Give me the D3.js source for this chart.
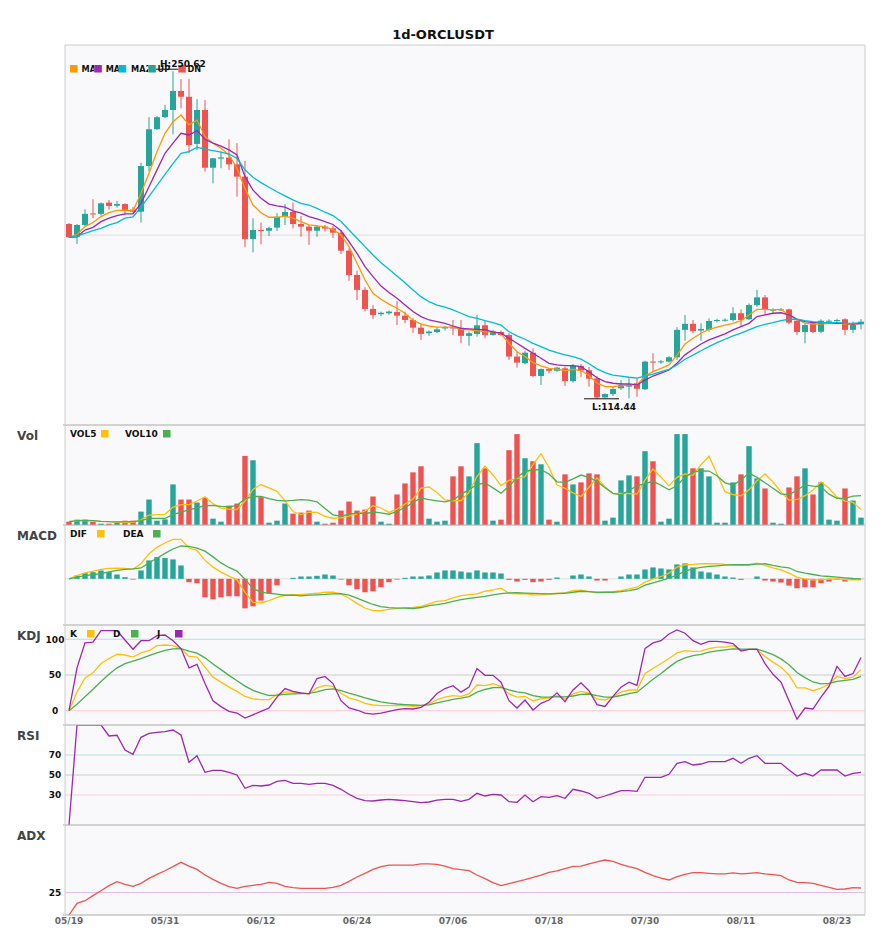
<!DOCTYPE html>
<html lang="en">
<head>
<meta charset="utf-8" />
<title>1d-ORCLUSDT</title>
<script src="https://d3js.org/d3.v7.min.js"></script>
<style>
  body { margin: 0; background: #fff; }
  svg text { font-family: "DejaVu Sans", Verdana, sans-serif; }
  .line { fill: none; stroke-width: 1.3px; }
</style>
</head>
<body>
<script>
// ---- data ----
var start = new Date(2025, 4, 19);
var dates = d3.timeDay.range(start, d3.timeDay.offset(start, 100));
var tickLabels = ["05/19", "05/31", "06/12", "06/24", "07/06", "07/18", "07/30", "08/11", "08/23"];

var open = [
  187.1,181.8,186.7,191.5,191.3,196.0,194.7,195.4,193.1,192.2,
  211.2,226.5,231.5,234.5,242.4,240.0,220.4,234.5,210.5,214.3,
  214.7,211.9,206.8,180.9,184.6,184.3,185.6,190.1,192.1,187.1,
  186.0,184.3,186.0,185.3,183.5,176.0,165.9,159.7,151.8,149.6,
  150.0,150.5,149.0,147.2,144.0,141.7,142.2,143.7,144.4,144.0,
  140.6,141.4,145.0,141.0,142.2,141.0,132.0,129.2,133.6,123.9,
  126.8,126.1,127.1,121.8,128.1,126.3,122.9,115.0,116.4,118.8,
  119.5,120.9,118.4,129.9,129.6,129.9,131.7,143.1,145.6,142.8,
  143.1,146.8,146.9,147.2,150.0,147.5,153.4,156.6,151.1,151.2,
  151.6,146.9,142.2,145.8,142.3,146.5,146.8,147.5,143.1,145.4];
var high = [
  187.5,187.1,193.2,197.4,196.1,197.1,196.7,195.7,194.2,212.6,
  231.5,232.0,236.6,250.62,247.3,247.3,239.0,238.7,214.6,217.2,
  222.3,220.7,213.4,189.5,187.7,186.0,191.6,195.4,196.0,190.4,
  186.7,186.7,186.7,186.3,184.6,177.0,167.7,160.8,153.4,150.7,
  151.1,155.1,150.7,147.9,145.8,142.8,144.2,144.8,147.2,147.2,
  142.4,149.3,146.9,143.0,142.8,141.7,134.0,134.4,135.4,127.1,
  127.0,127.7,127.8,128.9,128.9,127.7,123.9,116.7,119.5,122.2,
  123.0,123.0,130.3,133.4,130.6,132.2,144.2,149.3,147.2,145.8,
  147.9,147.7,147.9,152.5,151.6,154.1,159.7,157.6,152.1,152.2,
  151.9,147.5,145.8,146.5,147.5,147.5,147.7,147.9,146.5,147.6];
var low = [
  181.3,178.8,186.0,189.5,190.6,193.2,193.9,190.8,191.7,187.7,
  208.9,226.2,231.1,224.4,235.2,216.5,217.9,208.9,204.0,210.3,
  209.6,198.5,177.4,175.3,178.7,182.1,184.2,186.7,185.3,181.8,
  178.4,181.8,183.9,181.3,174.6,163.5,155.5,150.7,147.6,148.9,
  149.4,145.1,145.8,141.9,138.9,140.6,141.7,142.8,141.0,137.5,
  136.5,140.3,139.6,140.6,140.6,130.6,127.4,128.8,123.4,120.2,
  125.0,125.7,119.8,121.1,123.6,119.5,114.44,114.6,115.6,118.1,
  114.6,115.3,118.1,125.7,128.9,129.5,130.6,138.6,141.7,138.6,
  142.3,146.2,146.5,146.5,144.4,147.2,152.7,149.3,150.2,150.9,
  145.5,141.0,137.5,141.7,141.7,145.8,146.1,141.0,141.7,143.3];
var close = [
  181.6,186.7,191.3,191.1,195.7,194.6,195.4,192.9,192.2,211.2,
  226.5,231.5,234.5,242.4,240.0,219.9,234.5,210.5,214.4,214.8,
  211.9,206.8,180.9,184.6,184.3,185.4,190.1,192.1,187.1,186.0,
  184.3,186.0,185.2,183.5,176.0,165.9,159.7,151.8,149.3,150.2,
  150.7,149.0,147.2,144.0,141.4,142.4,143.3,144.3,143.7,140.6,
  141.7,145.0,141.0,142.4,141.0,132.0,129.5,133.6,123.9,126.8,
  126.1,127.4,121.8,128.2,126.2,122.8,115.0,116.4,118.5,120.2,
  120.2,118.6,129.9,129.6,130.0,131.7,143.1,145.6,142.6,143.5,
  146.8,147.2,147.3,150.0,147.2,153.4,156.6,151.6,151.5,151.6,
  146.1,142.2,145.1,142.2,146.9,146.9,147.2,143.1,145.1,146.5];

var ma5 = [
  181.6,182.8,186.0,187.7,190.2,191.8,192.8,192.9,192.6,199.9,
  208.2,217.2,224.8,229.6,232.4,228.3,230.3,223.4,220.7,218.6,
  215.8,210.3,201.9,195.0,191.8,189.9,189.9,190.4,189.5,188.1,
  186.7,186.3,185.9,184.8,182.5,177.7,170.8,163.8,158.3,155.8,
  153.8,152.1,150.0,147.2,145.5,144.7,144.2,144.2,144.2,143.3,
  143.1,142.8,142.3,142.3,141.4,137.5,134.0,132.0,129.5,128.1,
  127.1,126.8,126.1,126.7,126.2,124.1,121.0,119.5,119.5,119.8,
  120.2,120.2,123.9,125.7,127.1,128.5,132.6,137.2,139.6,141.7,
  143.3,144.2,145.1,145.8,146.9,149.3,151.6,151.6,151.4,151.6,
  149.3,147.5,145.8,145.5,145.5,145.8,146.1,145.5,145.5,145.8];
var ma10 = [
  181.6,181.8,184.6,185.7,188.1,189.5,190.6,191.3,191.3,195.7,
  202.6,209.6,216.5,220.7,224.8,224.1,225.9,222.3,220.7,219.5,
  217.9,215.8,206.8,201.2,197.8,195.4,194.6,194.1,192.6,191.6,
  190.2,189.2,188.1,186.9,184.3,179.8,174.9,169.4,165.2,161.3,
  158.6,156.2,153.4,150.7,148.6,147.2,146.5,145.8,144.7,143.7,
  143.5,143.3,143.1,142.3,141.7,139.6,137.5,135.4,133.4,131.3,
  129.2,128.5,128.2,128.2,127.8,125.7,123.2,121.6,120.9,120.6,
  120.6,120.2,122.2,123.9,125.1,126.4,129.2,132.7,135.0,137.2,
  138.9,140.2,141.4,143.1,144.4,145.8,148.6,149.3,150.0,150.2,
  149.3,147.5,146.5,146.1,146.1,146.1,145.8,145.8,145.5,145.8];
var ma20 = [
  181.6,182.1,183.2,184.3,185.3,186.7,187.7,189.5,190.1,194.1,
  198.6,203.2,207.7,212.2,216.5,217.2,219.0,218.2,217.6,217.0,
  216.2,214.4,209.6,206.5,204.3,202.4,200.5,198.8,197.1,195.7,
  195.0,193.6,192.0,190.6,188.1,184.6,181.2,177.7,174.2,171.0,
  168.3,165.5,162.7,159.7,156.9,154.8,153.4,152.5,151.4,150.0,
  148.6,147.9,146.9,146.1,145.1,142.3,140.6,139.2,137.5,136.1,
  134.7,133.6,132.7,132.0,130.9,129.0,126.9,125.3,124.3,123.9,
  123.4,123.0,123.9,124.7,125.7,126.7,128.5,130.9,132.6,134.4,
  136.1,137.8,139.2,140.6,141.7,143.1,144.4,145.4,146.1,146.9,
  147.5,147.5,146.9,146.5,146.2,146.1,146.1,145.8,145.8,146.1];
var mainGrid = [182.5];

var volume = [
  3.3,5.3,5.3,3.3,1.3,1.3,2.3,4.3,4.3,13.3,
  25.3,4.3,5.6,40.3,25.3,25.3,22.3,27.0,6.3,3.3,
  19.3,21.3,68.6,64.3,27.6,2.3,4.3,21.3,11.3,12.3,
  14.3,3.3,1.3,2.3,14.3,23.3,14.3,15.3,28.3,3.3,
  1.3,30.3,41.3,52.3,58.3,6.3,3.3,4.3,48.3,58.3,
  48.3,81.3,56.3,4.3,5.3,74.3,90.3,66.3,63.3,60.3,
  5.3,3.3,50.3,40.3,42.3,51.3,50.3,4.3,7.3,44.3,
  49.3,48.3,73.3,63.3,3.3,6.3,90.3,90.3,56.3,56.3,
  48.3,2.3,2.3,42.3,50.3,78.3,46.3,36.3,2.3,1.3,
  37.3,48.3,56.3,30.3,42.3,5.3,4.3,36.3,24.3,7.3];
var vol5 = [
  3.3,4.3,4.6,4.3,3.7,3.3,2.7,2.5,2.7,5.1,
  9.9,10.3,10.6,17.8,20.2,20.2,23.8,28.0,21.2,16.8,
  15.6,15.4,23.8,35.4,40.2,36.8,33.4,24.0,13.4,10.3,
  12.7,12.5,8.5,6.7,7.1,8.9,11.1,13.9,19.1,16.9,
  12.5,15.7,20.9,25.7,36.7,37.7,32.3,24.9,24.1,24.1,
  32.5,48.1,58.5,49.7,39.1,44.3,46.1,48.1,59.9,70.9,
  57.1,39.7,36.5,31.9,28.3,37.5,46.9,37.7,31.1,31.5,
  31.1,30.7,44.5,55.7,47.5,38.9,47.3,50.7,49.3,59.9,
  68.3,50.7,33.1,30.3,29.1,35.1,43.9,50.7,42.7,32.9,
  24.7,25.1,29.1,34.7,42.9,36.5,27.7,23.7,22.5,15.5];
var vol10 = [
  3.3,4.3,4.6,4.3,3.7,3.3,3.2,3.3,3.4,4.4,
  6.6,6.5,6.6,10.3,12.7,15.1,17.1,19.3,19.5,18.5,
  17.9,19.6,25.9,28.3,28.5,26.2,24.4,23.9,24.4,25.3,
  24.8,23.0,16.3,10.1,8.7,10.8,11.8,11.2,12.9,12.0,
  10.7,13.4,17.4,22.4,26.8,25.1,24.0,22.9,24.9,30.4,
  35.1,40.2,41.7,36.9,31.6,38.4,47.1,53.3,54.8,55.0,
  50.7,42.9,42.3,45.9,49.6,47.3,43.3,37.1,31.5,29.9,
  34.3,38.8,41.1,43.4,39.5,35.0,39.0,47.6,52.5,53.7,
  53.6,49.0,41.9,39.8,44.5,51.7,47.3,41.9,36.5,31.0,
  29.9,34.5,39.9,38.7,37.9,30.6,26.4,26.4,28.6,29.2];

var dif = [
  0,1.11,2.0,2.56,3.11,3.44,3.56,3.44,3.22,5.0,
  8.33,10.44,11.89,13.11,13.11,10.22,9.44,6.11,3.89,2.22,
  0.89,-0.33,-4.5,-7.78,-8.0,-7.22,-6.11,-5.44,-5.22,-5.22,
  -5.0,-4.78,-4.44,-4.44,-5.0,-6.44,-8.11,-9.67,-10.56,-10.56,
  -10.11,-9.78,-9.56,-9.44,-9.11,-8.33,-7.44,-7.22,-6.33,-5.56,
  -5.22,-5.0,-4.11,-3.67,-3.11,-4.8,-5.0,-4.9,-5.3,-5.3,
  -5.1,-4.78,-4.67,-3.89,-3.78,-4.22,-4.67,-4.44,-4.22,-3.89,
  -3.33,-2.78,-1.11,0,0.78,1.89,3.89,4.67,4.78,5.0,
  5.0,5.0,4.78,4.67,4.44,4.67,5.22,4.44,3.67,3.0,
  1.89,0.56,0,-0.33,-0.33,-0.11,0,-0.22,-0.33,-0.33];
var dea = [
  0,0.56,1.06,1.44,1.72,2.33,2.83,3.17,3.33,3.61,
  5.28,6.83,8.44,9.89,10.89,10.78,10.17,9.17,7.28,5.28,
  3.78,2.56,-0.11,-3.22,-4.39,-4.83,-5.06,-5.44,-5.39,-5.61,
  -5.39,-5.28,-5.17,-5.0,-4.89,-5.39,-6.39,-7.44,-8.5,-9.17,
  -9.56,-9.67,-9.72,-9.83,-9.5,-8.89,-8.56,-8.11,-7.44,-6.89,
  -6.44,-6.11,-5.78,-5.33,-4.89,-4.67,-4.6,-4.7,-4.8,-4.9,
  -5.0,-4.89,-4.78,-4.44,-4.11,-4.22,-4.44,-4.44,-4.44,-4.22,
  -3.89,-3.44,-2.11,-1.33,-0.56,0.22,1.22,2.56,3.33,3.78,
  4.11,4.33,4.56,4.67,4.67,4.67,4.89,5.0,4.44,4.0,
  3.67,2.44,1.89,1.44,1.0,0.78,0.56,0.33,0.11,0];
var macdHist = [
  0,1.11,1.89,2.22,2.78,2.22,1.44,0.56,-0.22,2.78,
  6.11,7.22,6.89,6.44,4.44,-1.11,-1.44,-6.11,-6.78,-6.11,
  -5.78,-5.78,-9.78,-9.11,-7.22,-4.78,-2.11,0,0.33,0.78,
  0.78,1.0,1.44,1.11,-0.22,-2.11,-3.44,-4.44,-4.11,-2.78,
  -1.11,-0.22,0.33,0.78,0.78,1.11,2.11,2.78,2.78,2.44,
  2.11,2.78,2.11,2.11,1.78,-0.33,-0.89,-0.33,-1.11,-0.89,
  -0.33,0.44,0,1.11,1.44,0.78,-0.56,-0.56,0,0.78,
  1.44,1.44,3.11,3.78,3.44,3.11,4.78,5.11,3.78,2.44,
  2.11,1.44,0.78,0.44,-0.33,0,0.78,-0.56,-0.89,-1.22,
  -2.22,-3.11,-2.78,-2.78,-1.44,-0.89,-0.33,-0.89,-0.33,-0.11];

var kLine = [
  0,26,46,53,66,73,79,78,75,81,
  84,91,92,91,87,76,75,61,47,40,
  33,27,20,16.5,15.6,15.6,22.6,26,26,24.5,
  23.6,32,35.4,34,24.5,18,15,10.4,8,7,
  7,7,7,6,7,9.4,15.5,19,21,20,
  23.6,36,35,38,34,23.6,19,20,14,16.5,
  18,21,16.5,23.6,27,24.5,16.5,15,20,26,
  29,29,52,59,66,73,81,84,83,83.5,
  87,89,89,91,85,86,86,76,68,61,
  50,32,32,28,31.6,37,48,45,47,57.5];
var dLine = [
  0,9,19.5,30,41,51,60,66,69.5,73,
  77,81,84.5,86.5,87,83.5,80.5,74,65.5,57.5,
  49.5,42,34.4,28.4,24.5,21.3,21.7,22.8,23.5,23.8,
  24.3,26.5,29.5,30.5,28,24.5,21.5,18,15,12.5,
  10.5,9.4,8.6,8,7.6,8.2,11,13.5,16,17.7,
  19.8,26,29.7,32.3,32.7,29.3,26.5,25,21,19.2,
  19,19.8,19.3,20.6,23,23.4,21,19,19.2,21.3,
  23.8,25.9,35,44,52,61,69,74,77,79,
  82,83.7,85.3,86.6,86.3,86.2,86.1,82.7,78.5,72.6,
  64.4,53.5,46.3,40.2,37.7,38.2,41,42.4,44,48.2];
var jLine = [
  0,60,95,96,112,112,112,99,86,98,
  98,105,106,98,87,60,65,38,14,5.7,
  -1,-3.3,-10.4,-5.7,-1,3.8,19,31,27,25,
  23.6,45,48,38,14,3.8,1,-3.3,-4.7,-3.3,
  -1,1.4,2.8,2.4,4.7,11.8,24,31,35,26,
  33,59,49.5,49.5,40,14,3.8,15,1,10.4,
  15,25,12.7,29,39,28,8.5,6,20,33,
  40,35.4,87,95,98,107.5,113,108.5,98,93,
  97,97,96,94,83.5,86,86,66,51,40,
  14,-11.8,3.8,2.4,19,34,62,48,52,74.5];

var rsi = [
  0,100,100,100,100,89,89.7,75,70.7,87.7,
  91.7,92.7,93.3,95,90,62.7,69.3,52.7,54.7,54.7,
  52.7,50,36.7,39.7,39,40,43.7,44.7,41.7,41.7,
  40.7,41.7,41.7,39.7,35.7,30.7,26.7,24.3,24,25,
  25.7,25,24.3,23.3,22.3,23,24.8,25.7,25.7,23.7,
  25.7,31.7,29,30.7,30,23.3,22.7,30,23.3,28.3,
  27.7,29.3,26.7,35.7,34,31.7,26.7,29,31.7,34.3,
  34.3,33.7,47.7,47.7,47.7,50.7,61.7,63.3,60,61,
  63.3,63.3,63.3,66.7,61.7,66.7,69.3,61.7,61.7,61.7,
  55,49,51.7,49,55,55,55,49,51.7,52.7];
var adx = [
  0,13,15.9,21.5,27,32.6,37,34.1,31.9,35.2,
  40.7,45.2,49.2,53.7,58.5,54.4,50.7,44.4,39.6,35.2,
  31.5,29.6,31.9,33,34.1,36.3,35.2,31.9,30.4,29.6,
  29.6,29.6,29.6,30.7,33,37.4,42.2,46.3,50.7,53.7,
  55.5,55.5,55.5,55.5,56.7,56.7,56.3,54.4,51.5,50.4,
  49.2,44.4,40.4,35.9,32.6,34.8,37,39.3,41.9,44.4,
  47.4,48.9,51.5,54.1,54.4,56.7,58.9,61.1,59.6,56.3,
  53.7,51.5,47.4,43.7,41.1,38.9,42.6,45.2,47,47,
  46.3,45.6,45.6,46.7,45.6,46.3,47,45.6,44.8,43.7,
  38.9,36.3,35.9,35.2,33,30.7,28.5,28.9,30.4,30];

var kdjLevels = [100, 50, 0];
var rsiLevels = [70, 50, 30];
var adxLevels = [25];

// ---- layout ----
var UP = "#26a69a", DN = "#ef5350";
var left = 65, right = 865;
var fmt = d3.timeFormat("%m/%d");
var keys = dates.map(fmt);
var idx = d3.range(keys.length);

var panels = {
  main: {top: 45, bottom: 425},
  vol:  {top: 425, bottom: 525, label: "Vol"},
  macd: {top: 525, bottom: 625, label: "MACD"},
  kdj:  {top: 625, bottom: 725, label: "KDJ"},
  rsi:  {top: 725, bottom: 825, label: "RSI"},
  adx:  {top: 825, bottom: 915, label: "ADX"}
};

var svg = d3.select("body").append("svg")
    .attr("width", 885)
    .attr("height", 950);

svg.append("text")
    .attr("x", 443).attr("y", 39)
    .attr("text-anchor", "middle")
    .style("font-size", "13px").style("font-weight", "bold")
    .attr("fill", "#111")
    .text("1d-ORCLUSDT");

svg.append("rect")
    .attr("x", left).attr("y", 45)
    .attr("width", right - left).attr("height", 915 - 45)
    .attr("fill", "#f9f9fb");

var defs = svg.append("defs");
Object.keys(panels).forEach(function(id) {
  var p = panels[id];
  defs.append("clipPath").attr("id", "clip-" + id)
    .append("rect")
      .attr("x", left).attr("y", p.top)
      .attr("width", right - left).attr("height", p.bottom - p.top);
});

function panelG(id) {
  return svg.append("g").attr("clip-path", "url(#clip-" + id + ")");
}

var x = d3.scaleBand().domain(keys).range([left, right])
    .paddingInner(0.25).paddingOuter(0.125);
var bw = x.bandwidth();
var cx = function(i) { return x(keys[i]) + bw / 2; };

function hline(g, y, stroke) {
  g.append("line")
    .attr("x1", left).attr("x2", right)
    .attr("y1", y).attr("y2", y)
    .attr("stroke", stroke).attr("stroke-width", 1);
}

function drawLine(g, values, scale, stroke, width) {
  var line = d3.line()
      .x(function(d, i) { return cx(i); })
      .y(function(d) { return scale(d); });
  g.append("path")
      .datum(values)
      .attr("class", "line")
      .attr("stroke", stroke)
      .attr("stroke-width", width || 1.3)
      .attr("d", line);
}

// legend: text first, then a coloured square
function legend(items, top) {
  var g = svg.append("g");
  items.forEach(function(it) {
    g.append("text")
      .attr("x", it.x).attr("y", top + 12)
      .style("font-size", "9px").style("font-weight", "bold")
      .attr("fill", "#111").text(it.name);
    g.append("rect")
      .attr("x", it.sx).attr("y", top + 5)
      .attr("width", 7.5).attr("height", 7.5)
      .attr("fill", it.color);
  });
}

// ---- main candles ----
var lo = d3.min(low), hi = d3.max(high), pad = (hi - lo) * 0.08;
var yMain = d3.scaleLinear().domain([lo - pad, hi + pad]).range([425, 45]);
var gMain = panelG("main");

mainGrid.forEach(function(v) { hline(gMain, yMain(v), "#dddddd"); });

var isUp = function(i) { return close[i] >= open[i]; };

gMain.selectAll(".wick").data(idx).join("line")
    .attr("class", "wick")
    .attr("x1", cx).attr("x2", cx)
    .attr("y1", function(i) { return yMain(high[i]); })
    .attr("y2", function(i) { return yMain(low[i]); })
    .attr("stroke", function(i) { return isUp(i) ? UP : DN; })
    .attr("stroke-width", 1);

gMain.selectAll(".body").data(idx).join("rect")
    .attr("class", "body")
    .attr("x", function(i) { return x(keys[i]); })
    .attr("width", bw)
    .attr("y", function(i) { return yMain(Math.max(open[i], close[i])); })
    .attr("height", function(i) {
      return Math.max(1, Math.abs(yMain(open[i]) - yMain(close[i])));
    })
    .attr("fill", function(i) { return isUp(i) ? UP : DN; });

drawLine(gMain, ma5, yMain, "#ff9800", 1.4);
drawLine(gMain, ma10, yMain, "#9c27b0", 1.4);
drawLine(gMain, ma20, yMain, "#00bcd4", 1.4);

// main legend: square first, then text; each label is cut off by the next square
var mainLegend = [
  {name: "MA5", color: "#ff9800", sx: 70, tx: 81.5},
  {name: "MA10", color: "#9c27b0", sx: 94.3, tx: 105.7},
  {name: "MA20", color: "#00bcd4", sx: 118.7, tx: 131},
  {name: "UP", color: UP, sx: 148.3, tx: 157.5},
  {name: "DN", color: DN, sx: 178.3, tx: 187.5}
];
var gLeg = svg.append("g");
mainLegend.forEach(function(it, k) {
  var next = mainLegend[k + 1];
  var clipW = next ? next.sx - it.tx : 40;
  defs.append("clipPath").attr("id", "leg-clip-" + k)
    .append("rect")
      .attr("x", it.tx).attr("y", 60)
      .attr("width", clipW).attr("height", 16);
  gLeg.append("rect")
    .attr("x", it.sx).attr("y", 65)
    .attr("width", 7.5).attr("height", 7.5)
    .attr("fill", it.color);
  gLeg.append("text")
    .attr("x", it.tx).attr("y", 72.3)
    .attr("clip-path", "url(#leg-clip-" + k + ")")
    .style("font-size", "8.2px").style("font-weight", "bold")
    .attr("fill", "#111").text(it.name);
});

// high / low marks
var iH = d3.maxIndex(high), iL = d3.minIndex(low);
svg.append("line")
    .attr("x1", cx(iH) - 17).attr("x2", cx(iH) + 5)
    .attr("y1", yMain(high[iH]) - 2).attr("y2", yMain(high[iH]) - 2)
    .attr("stroke", "#111");
svg.append("text")
    .attr("x", cx(iH) - 13).attr("y", yMain(high[iH]) - 4)
    .style("font-size", "9px").style("font-weight", "bold")
    .attr("fill", "#111").text("H:" + high[iH].toFixed(2));
svg.append("line")
    .attr("x1", cx(iL) - 13).attr("x2", cx(iL) + 22)
    .attr("y1", yMain(low[iL])).attr("y2", yMain(low[iL]))
    .attr("stroke", "#111");
svg.append("text")
    .attr("x", cx(iL) - 5).attr("y", yMain(low[iL]) + 11)
    .style("font-size", "9px").style("font-weight", "bold")
    .attr("fill", "#111").text("L:" + low[iL].toFixed(2));

// ---- volume ----
var yVol = d3.scaleLinear().domain([0, d3.max(volume) * 1.1]).range([525, 425]);
var gVol = panelG("vol");
gVol.selectAll("rect").data(idx).join("rect")
    .attr("x", function(i) { return cx(i) - 2.7; })
    .attr("width", 5.4)
    .attr("y", function(i) { return yVol(volume[i]); })
    .attr("height", function(i) { return yVol(0) - yVol(volume[i]); })
    .attr("fill", function(i) { return isUp(i) ? UP : DN; });
drawLine(gVol, vol5, yVol, "#ffc107", 1.2);
drawLine(gVol, vol10, yVol, "#4caf50", 1.2);
legend([
  {name: "VOL5", x: 70, sx: 101, color: "#ffc107"},
  {name: "VOL10", x: 125, sx: 163, color: "#4caf50"}
], 425);

// ---- MACD ----
var mExt = d3.extent(dif.concat(dea, macdHist));
var mPad = (mExt[1] - mExt[0]) * 0.2;
var yMacd = d3.scaleLinear().domain([mExt[0] - mPad, mExt[1] + mPad]).range([625, 525]);
var gMacd = panelG("macd");
hline(gMacd, yMacd(0), "#dddddd");
gMacd.selectAll("rect").data(idx).join("rect")
    .attr("x", function(i) { return cx(i) - 2.7; })
    .attr("width", 5.4)
    .attr("y", function(i) { return yMacd(Math.max(0, macdHist[i])); })
    .attr("height", function(i) { return Math.abs(yMacd(macdHist[i]) - yMacd(0)); })
    .attr("fill", function(i) { return macdHist[i] >= 0 ? UP : DN; });
drawLine(gMacd, dif, yMacd, "#ffc107", 1.2);
drawLine(gMacd, dea, yMacd, "#4caf50", 1.2);
legend([
  {name: "DIF", x: 70, sx: 97, color: "#ffc107"},
  {name: "DEA", x: 123, sx: 153, color: "#4caf50"}
], 525);

// ---- KDJ ----
var yKdj = d3.scaleLinear().domain([-20, 120]).range([725, 625]);
var gKdj = panelG("kdj");
var kdjColors = ["#b2dfdb", "#cccccc", "#ffcdd2"];
kdjLevels.forEach(function(v, k) { hline(gKdj, yKdj(v), kdjColors[k]); });
drawLine(gKdj, kLine, yKdj, "#ffc107", 1.2);
drawLine(gKdj, dLine, yKdj, "#4caf50", 1.2);
drawLine(gKdj, jLine, yKdj, "#9c27b0", 1.2);
legend([
  {name: "K", x: 70, sx: 87, color: "#ffc107"},
  {name: "D", x: 113, sx: 131, color: "#4caf50"},
  {name: "J", x: 157, sx: 175, color: "#9c27b0"}
], 625);

// ---- RSI ----
var yRsi = d3.scaleLinear().domain([0, 100]).range([825, 725]);
var gRsi = panelG("rsi");
rsiLevels.forEach(function(v, k) { hline(gRsi, yRsi(v), kdjColors[k]); });
drawLine(gRsi, rsi, yRsi, "#9c27b0", 1.2);

// ---- ADX ----
var yAdx = d3.scaleLinear().domain([0, 100]).range([915, 825]);
var gAdx = panelG("adx");
adxLevels.forEach(function(v) { hline(gAdx, yAdx(v), "#e1bee7"); });
drawLine(gAdx, adx, yAdx, "#ef5350", 1.2);

// ---- y tick labels ----
function yLabels(scale, values) {
  var g = svg.append("g")
      .attr("transform", "translate(63,0)")
      .call(d3.axisLeft(scale).tickValues(values).tickSize(0).tickFormat(d3.format("d")));
  g.select(".domain").remove();
  g.selectAll("text")
      .attr("x", -8)
      .attr("text-anchor", "middle")
      .style("font-size", "9px").style("font-weight", "bold")
      .style("font-family", "DejaVu Sans, sans-serif")
      .attr("fill", "#111");
}
yLabels(yKdj, kdjLevels);
yLabels(yRsi, rsiLevels);
yLabels(yAdx, adxLevels);

// ---- frames ----
svg.append("line").attr("x1", left).attr("x2", right).attr("y1", 45).attr("y2", 45)
    .attr("stroke", "#cccccc");
[425, 525, 625, 725, 825, 915].forEach(function(y) {
  svg.append("line").attr("x1", left - 2).attr("x2", right).attr("y1", y).attr("y2", y)
      .attr("stroke", "#aaaaaa");
});
[left, right].forEach(function(xx) {
  svg.append("line").attr("x1", xx).attr("x2", xx).attr("y1", 45).attr("y2", 915)
      .attr("stroke", "#cccccc");
});

// panel names
Object.keys(panels).forEach(function(id) {
  var p = panels[id];
  if (!p.label) return;
  svg.append("text")
    .attr("x", 17).attr("y", p.top + 14.5)
    .style("font-size", "12px").style("font-weight", "bold")
    .attr("fill", "#444").text(p.label);
});

// ---- x axis ----
var gx = svg.append("g")
    .attr("transform", "translate(0,915)")
    .call(d3.axisBottom(x).tickValues(tickLabels).tickSize(0).tickPadding(3));
gx.select(".domain").remove();
gx.selectAll("text")
    .style("font-size", "9px").style("font-weight", "bold")
    .style("font-family", "DejaVu Sans, sans-serif")
    .attr("fill", "#666");
</script>
</body>
</html>
